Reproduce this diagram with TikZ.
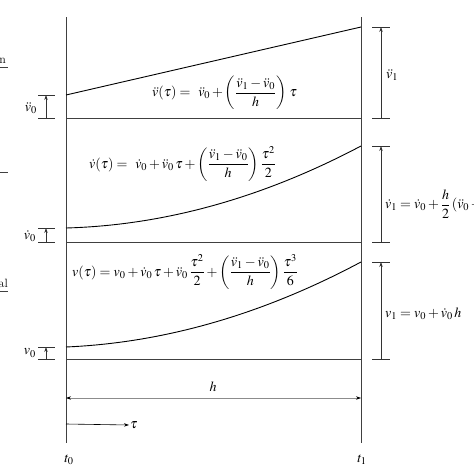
\documentclass[tikz,border=0pt]{standalone}
\usepackage{amsmath}
\usepackage{mathptmx}
\usetikzlibrary{arrows.meta}
\begin{document}
\begin{tikzpicture}[x=1pt,y=-1pt,
  frame/.style={line width=0.8pt,draw=black!75},
  curve/.style={line width=0.9pt,draw=black},
  tick/.style={line width=0.6pt,draw=black!80},
  dimarrow/.style={line width=0.6pt,draw=black!80,-{Stealth[length=5pt,width=3.4pt]}},
  lbl/.style={inner sep=1pt,font=\fontsize{14}{16}\selectfont},
  frag/.style={inner sep=0pt,font=\fontsize{12}{14}\selectfont\bfseries}]
\useasboundingbox (0,0) rectangle (474,474);
\clip (0,0) rectangle (474,474);
% frame coordinates
\coordinate (LT) at (66,17);  \coordinate (LB) at (66,443);
\coordinate (RT) at (361,17); \coordinate (RB) at (361,443);
\coordinate (A0) at (66,118); \coordinate (A1) at (361,118);
\coordinate (B0) at (66,242); \coordinate (B1) at (361,242);
\coordinate (C0) at (66,359); \coordinate (C1) at (361,359);
\coordinate (a0) at (66,95);  \coordinate (a1) at (361,27);
\coordinate (b0) at (66,228); \coordinate (b1) at (361,146);
\coordinate (c0) at (66,347); \coordinate (c1) at (361,262);
\draw[frame] (LT) -- (LB);
\draw[frame] (RT) -- (RB);
\draw[frame] (A0) -- (A1);
\draw[frame] (B0) -- (B1);
\draw[frame] (C0) -- (C1);
% curves
\draw[curve] (a0) -- (a1);
\draw[curve] plot[domain=0:1,samples=40,variable=\s] ({66+295*\s},{228-82*(0.1*\s+0.9*\s*\s)});
\draw[curve] plot[domain=0:1,samples=40,variable=\s] ({66+295*\s},{347-85*(0.15*\s+0.85*\s*\s)});
% equations
\node[lbl,anchor=west] (eqa) at (151,93) {$\ddot v(\tau) =\ \ddot v_0 + \left(\dfrac{\ddot v_1-\ddot v_0}{h}\right)\,\tau$};
\node[lbl,anchor=west] (eqb) at (88,164) {$\dot v(\tau) =\ \dot v_0 + \ddot v_0\,\tau + \left(\dfrac{\ddot v_1-\ddot v_0}{h}\right)\dfrac{\tau^2}{2}$};
\node[lbl,anchor=west] (eqc) at (71,272) {$v(\tau) = v_0 + \dot v_0\,\tau + \ddot v_0\,\dfrac{\tau^2}{2} + \left(\dfrac{\ddot v_1-\ddot v_0}{h}\right)\dfrac{\tau^3}{6}$};
% left dimension markers
\coordinate (la0) at (38,95);  \coordinate (la0e) at (55,95);
\coordinate (la1) at (38,118); \coordinate (la1e) at (55,118);
\coordinate (lb0) at (38,228); \coordinate (lb0e) at (55,228);
\coordinate (lb1) at (38,242); \coordinate (lb1e) at (55,242);
\coordinate (lc0) at (38,347); \coordinate (lc0e) at (55,347);
\coordinate (lc1) at (38,359); \coordinate (lc1e) at (55,359);
\foreach \p in {a0,a1,b0,b1,c0,c1} \draw[tick] (l\p) -- (l\p e);
\coordinate (laT) at (46,95);  \coordinate (laB) at (46,118);
\coordinate (lbT) at (46,228); \coordinate (lbB) at (46,242);
\coordinate (lcT) at (46,347); \coordinate (lcB) at (46,359);
\draw[dimarrow] (laB) -- (laT);
\draw[dimarrow] (lbB) -- (lbT);
\draw[dimarrow] (lcB) -- (lcT);
\node[lbl,anchor=east] (lva) at (38,108) {$\ddot v_0$};
\node[lbl,anchor=east] (lvb) at (37,236) {$\dot v_0$};
\node[lbl,anchor=east] (lvc) at (37,353) {$v_0$};
% right dimension markers
\coordinate (ra0) at (372,27);  \coordinate (ra0e) at (390,27);
\coordinate (ra1) at (372,118); \coordinate (ra1e) at (390,118);
\coordinate (rb0) at (372,146); \coordinate (rb0e) at (390,146);
\coordinate (rb1) at (372,242); \coordinate (rb1e) at (390,242);
\coordinate (rc0) at (372,262); \coordinate (rc0e) at (390,262);
\coordinate (rc1) at (372,359); \coordinate (rc1e) at (390,359);
\foreach \p in {a0,a1,b0,b1,c0,c1} \draw[tick] (r\p) -- (r\p e);
\coordinate (raT) at (381,27);  \coordinate (raB) at (381,118);
\coordinate (rbT) at (381,146); \coordinate (rbB) at (381,242);
\coordinate (rcT) at (381,262); \coordinate (rcB) at (381,359);
\draw[dimarrow] (raB) -- (raT);
\draw[dimarrow] (rbB) -- (rbT);
\draw[dimarrow] (rcB) -- (rcT);
\node[lbl,anchor=west] (rva) at (385,75) {$\ddot v_1$};
\node[lbl,anchor=west] (rvb) at (384,204) {$\dot v_1 = \dot v_0 + \dfrac{h}{2}\,(\ddot v_0 + \ddot v_1)$};
\node[lbl,anchor=west] (rvc) at (384,314) {$v_1 = v_0 + \dot v_0\,h$};
% bottom
\coordinate (hL) at (66,398); \coordinate (hR) at (361,398);
\draw[line width=0.6pt,draw=black!45,{Stealth[length=5pt,width=3.4pt,color=black]}-{Stealth[length=5pt,width=3.4pt,color=black]}] (hL) -- (hR);
\node[lbl] (hl) at (213,387) {$h$};
\coordinate (tauS) at (66,424);
\node[lbl,anchor=west] (tau) at (129,425) {$\tau$};
\draw[dimarrow,draw=black] (tauS) -- (tau.west);
\node[lbl] (t0) at (69,460) {$t_0$};
\node[lbl] (t1) at (362,460) {$t_1$};
% cut-off fragments at the left edge
\node[frag,anchor=base east] (f1) at (6,63) {n};
\draw[line width=0.8pt,black!75] (0,67.5) -- (8,67.5);
\draw[line width=0.8pt,black!75] (0,172) -- (8,172);
\node[frag,anchor=base east] (f3) at (8,287) {al};
\draw[line width=0.8pt,black!75] (0,291) -- (8,291);
\end{tikzpicture}
\end{document}
